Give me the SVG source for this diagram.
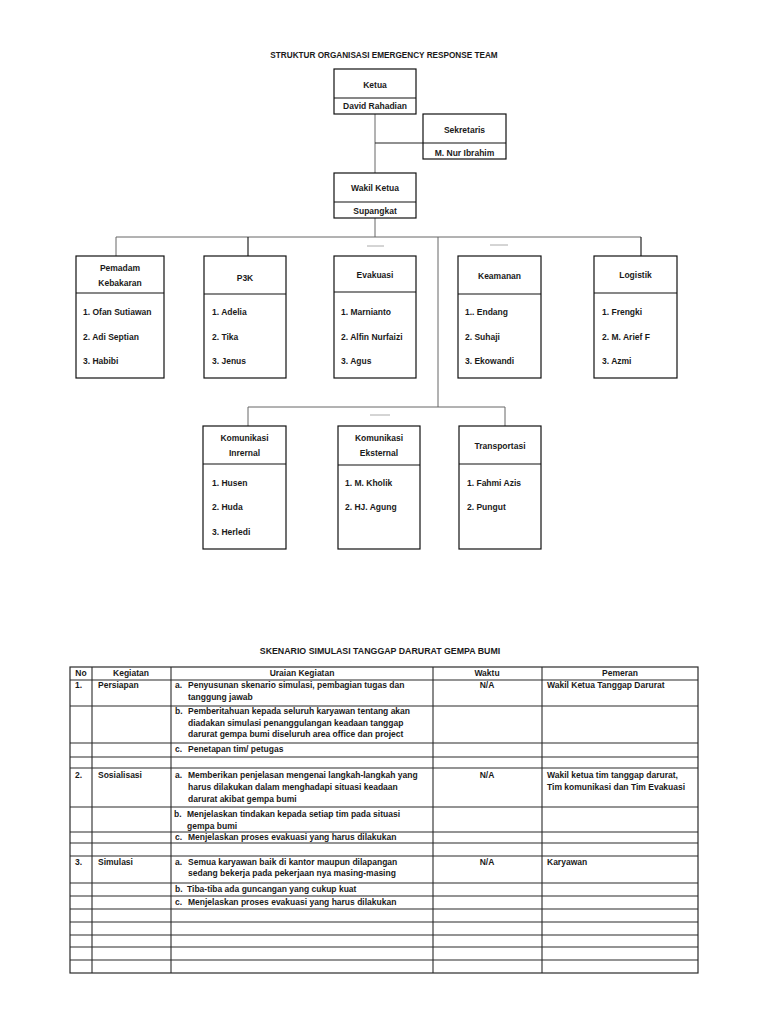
<svg xmlns="http://www.w3.org/2000/svg" width="768" height="1024" viewBox="0 0 768 1024">
<style>
text{font-family:"Liberation Sans",Arial,sans-serif;font-size:8.5px;font-weight:bold;fill:#1a1a1a}
.t{font-size:8.2px}
.t2{font-size:8.8px}
.c{text-anchor:middle}
.box{fill:#fff;stroke:#111;stroke-width:1.2}
.div{stroke:#111;stroke-width:1.2}
.con{stroke:#666;stroke-width:1;fill:none}
.dk{stroke:#222;stroke-width:1.2;fill:none}
.stub{stroke:#aaa;stroke-width:1}
.tl{stroke:#2a2a2a;stroke-width:1.1}
</style>
<rect width="768" height="1024" fill="#fff"/>
<text class="t c" x="384" y="58">STRUKTUR ORGANISASI EMERGENCY RESPONSE TEAM</text>

<g id="connectors">
<line class="con" x1="375" y1="114" x2="375" y2="173"/>
<line class="dk" x1="375" y1="143" x2="423" y2="143"/>
<line class="con" x1="375" y1="218" x2="375" y2="237"/>
<line class="con" x1="116" y1="237" x2="641" y2="237"/>
<line class="con" x1="116" y1="237" x2="116" y2="256"/>
<line class="dk" x1="248" y1="237" x2="248" y2="256"/>
<line class="dk" x1="641" y1="237" x2="641" y2="256"/>
<line class="con" x1="438" y1="237" x2="438" y2="407"/>
<line class="con" x1="248" y1="407" x2="505" y2="407"/>
<line class="con" x1="248" y1="407" x2="248" y2="426"/>
<line class="con" x1="505" y1="407" x2="505" y2="426"/>
<line class="stub" x1="367" y1="246" x2="384" y2="246"/>
<line class="stub" x1="490" y1="245" x2="508" y2="245"/>
<line class="stub" x1="370" y1="415" x2="390" y2="415"/>
</g>

<g id="ketua">
<rect class="box" x="334" y="69" width="82" height="45"/>
<line class="div" x1="334" y1="98" x2="416" y2="98"/>
<text class="c" x="375" y="88">Ketua</text>
<text class="c" x="375" y="109">David Rahadian</text>
</g>
<g id="sekretaris">
<rect class="box" x="423" y="114" width="83" height="45"/>
<line class="div" x1="423" y1="143" x2="506" y2="143"/>
<text class="c" x="464.5" y="133">Sekretaris</text>
<text class="c" x="464.5" y="156">M. Nur Ibrahim</text>
</g>
<g id="wakil">
<rect class="box" x="334" y="173" width="82" height="45"/>
<line class="div" x1="334" y1="202" x2="416" y2="202"/>
<text class="c" x="375" y="191">Wakil Ketua</text>
<text class="c" x="375" y="214">Supangkat</text>
</g>

<g id="pemadam">
<rect class="box" x="76" y="256" width="88" height="122"/>
<line class="div" x1="76" y1="293" x2="164" y2="293"/>
<text class="c" x="120" y="271">Pemadam</text>
<text class="c" x="120" y="286">Kebakaran</text>
<text x="83" y="315">1. Ofan Sutiawan</text>
<text x="83" y="340">2. Adi Septian</text>
<text x="83" y="364">3. Habibi</text>
</g>
<g id="p3k">
<rect class="box" x="204" y="256" width="82" height="122"/>
<line class="div" x1="204" y1="294" x2="286" y2="294"/>
<text class="c" x="245" y="281">P3K</text>
<text x="212" y="315">1. Adelia</text>
<text x="212" y="340">2. Tika</text>
<text x="212" y="364">3. Jenus</text>
</g>
<g id="evakuasi">
<rect class="box" x="334" y="256" width="82" height="122"/>
<line class="div" x1="334" y1="292" x2="416" y2="292"/>
<text class="c" x="375" y="278">Evakuasi</text>
<text x="341" y="315">1. Marnianto</text>
<text x="341" y="340">2. Alfin Nurfaizi</text>
<text x="341" y="364">3. Agus</text>
</g>
<g id="keamanan">
<rect class="box" x="458" y="256" width="83" height="122"/>
<line class="div" x1="458" y1="294" x2="541" y2="294"/>
<text class="c" x="499.5" y="279">Keamanan</text>
<text x="465" y="315">1.. Endang</text>
<text x="465" y="340">2. Suhaji</text>
<text x="465" y="364">3. Ekowandi</text>
</g>
<g id="logistik">
<rect class="box" x="594" y="256" width="83" height="122"/>
<line class="div" x1="594" y1="293" x2="677" y2="293"/>
<text class="c" x="635.5" y="278">Logistik</text>
<text x="602" y="315">1. Frengki</text>
<text x="602" y="340">2. M. Arief F</text>
<text x="602" y="364">3. Azmi</text>
</g>

<g id="kom-internal">
<rect class="box" x="203" y="426" width="83" height="123"/>
<line class="div" x1="203" y1="464" x2="286" y2="464"/>
<text class="c" x="244.5" y="441">Komunikasi</text>
<text class="c" x="244.5" y="456">Inrernal</text>
<text x="212" y="486">1. Husen</text>
<text x="212" y="510">2. Huda</text>
<text x="212" y="535">3. Herledi</text>
</g>
<g id="kom-eksternal">
<rect class="box" x="338" y="426" width="82" height="123"/>
<line class="div" x1="338" y1="465" x2="420" y2="465"/>
<text class="c" x="379" y="441">Komunikasi</text>
<text class="c" x="379" y="456">Eksternal</text>
<text x="345" y="486">1. M. Kholik</text>
<text x="345" y="510">2. HJ. Agung</text>
</g>
<g id="transportasi">
<rect class="box" x="459" y="426" width="82" height="123"/>
<line class="div" x1="459" y1="464" x2="541" y2="464"/>
<text class="c" x="500" y="449">Transportasi</text>
<text x="467" y="486">1. Fahmi Azis</text>
<text x="467" y="510">2. Pungut</text>
</g>

<text class="t2 c" x="380" y="654">SKENARIO SIMULASI TANGGAP DARURAT GEMPA BUMI</text>

<g id="table">
<rect x="70" y="667" width="628" height="306" fill="none" stroke="#2a2a2a" stroke-width="1.2"/>
<line class="tl" x1="92" y1="667" x2="92" y2="973"/>
<line class="tl" x1="171" y1="667" x2="171" y2="973"/>
<line class="tl" x1="433" y1="667" x2="433" y2="973"/>
<line class="tl" x1="542" y1="667" x2="542" y2="973"/>
<line class="tl" x1="70" y1="680" x2="698" y2="680"/>
<line class="tl" x1="70" y1="706" x2="698" y2="706"/>
<line class="tl" x1="70" y1="743" x2="698" y2="743"/>
<line class="tl" x1="70" y1="757" x2="698" y2="757"/>
<line class="tl" x1="70" y1="768" x2="698" y2="768"/>
<line class="tl" x1="70" y1="807" x2="698" y2="807"/>
<line class="tl" x1="70" y1="832" x2="698" y2="832"/>
<line class="tl" x1="70" y1="843" x2="698" y2="843"/>
<line class="tl" x1="70" y1="856" x2="698" y2="856"/>
<line class="tl" x1="70" y1="883" x2="698" y2="883"/>
<line class="tl" x1="70" y1="896" x2="698" y2="896"/>
<line class="tl" x1="70" y1="909" x2="698" y2="909"/>
<line class="tl" x1="70" y1="922" x2="698" y2="922"/>
<line class="tl" x1="70" y1="935" x2="698" y2="935"/>
<line class="tl" x1="70" y1="947" x2="698" y2="947"/>
<line class="tl" x1="70" y1="960" x2="698" y2="960"/>

<text class="c" x="81" y="676">No</text>
<text class="c" x="131" y="676">Kegiatan</text>
<text class="c" x="302" y="676">Uraian Kegiatan</text>
<text class="c" x="487" y="676">Waktu</text>
<text class="c" x="620" y="676">Pemeran</text>

<text x="75" y="688">1.</text>
<text x="98" y="688">Persiapan</text>
<text x="175" y="688">a.</text>
<text x="188" y="688">Penyusunan skenario simulasi, pembagian tugas dan</text>
<text x="188" y="700">tanggung jawab</text>
<text class="c" x="487" y="688">N/A</text>
<text x="547" y="688">Wakil Ketua Tanggap Darurat</text>
<text x="175" y="714">b.</text>
<text x="188" y="714">Pemberitahuan kepada seluruh karyawan tentang akan</text>
<text x="188" y="726">diadakan simulasi penanggulangan keadaan tanggap</text>
<text x="188" y="737">darurat gempa bumi diseluruh area office dan project</text>
<text x="175" y="752">c.</text>
<text x="188" y="752">Penetapan tim/ petugas</text>

<text x="75" y="778">2.</text>
<text x="98" y="778">Sosialisasi</text>
<text x="175" y="778">a.</text>
<text x="188" y="778">Memberikan penjelasan mengenai langkah-langkah yang</text>
<text x="188" y="790">harus dilakukan dalam menghadapi situasi keadaan</text>
<text x="188" y="802">darurat akibat gempa bumi</text>
<text class="c" x="487" y="778">N/A</text>
<text x="547" y="778">Wakil ketua tim tanggap darurat,</text>
<text x="547" y="790">Tim komunikasi dan Tim Evakuasi</text>
<text x="174" y="817">b.</text>
<text x="187" y="817">Menjelaskan tindakan kepada setiap tim pada situasi</text>
<text x="187" y="829">gempa bumi</text>
<text x="175" y="840">c.</text>
<text x="188" y="840">Menjelaskan proses evakuasi yang harus dilakukan</text>

<text x="75" y="865">3.</text>
<text x="98" y="865">Simulasi</text>
<text x="175" y="865">a.</text>
<text x="188" y="865">Semua karyawan baik di kantor maupun dilapangan</text>
<text x="188" y="876">sedang bekerja pada pekerjaan nya masing-masing</text>
<text class="c" x="487" y="865">N/A</text>
<text x="547" y="865">Karyawan</text>
<text x="175" y="892">b.</text>
<text x="187" y="892">Tiba-tiba ada guncangan yang cukup kuat</text>
<text x="175" y="905">c.</text>
<text x="188" y="905">Menjelaskan proses evakuasi yang harus dilakukan</text>
</g>
</svg>
